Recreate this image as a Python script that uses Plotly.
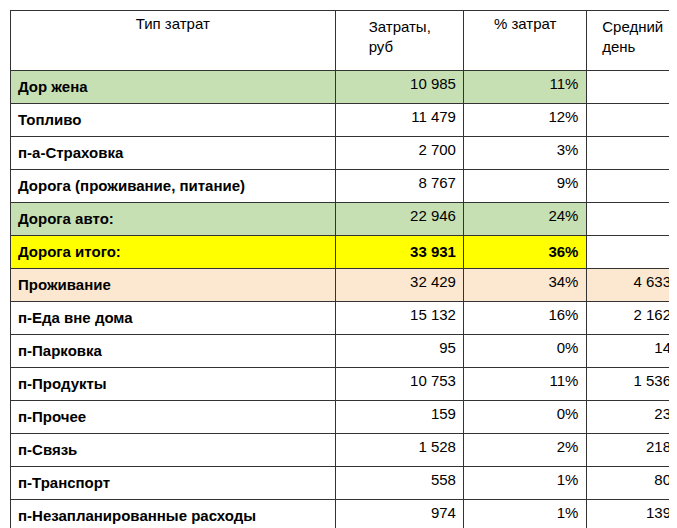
import plotly.graph_objects as go

headers = ["Тип затрат", "Затраты,<br>руб", "% затрат", "Средний<br>день"]
labels = ["Дор жена", "Топливо", "п-а-Страховка", "Дорога (проживание, питание)",
          "Дорога авто:", "Дорога итого:", "Проживание", "п-Еда вне дома", "п-Парковка",
          "п-Продукты", "п-Прочее", "п-Связь", "п-Транспорт", "п-Незапланированные расходы",
          "Затраты на месте итого", "Итого:"]
costs = ["10 985", "11 479", "2 700", "8 767", "22 946", "33 931", "32 429", "15 132", "95",
         "10 753", "159", "1 528", "558", "974", "29 199", "95 559"]
pcts = ["11%", "12%", "3%", "9%", "24%", "36%", "34%", "16%", "0%", "11%", "0%", "2%", "1%",
        "1%", "31%", "100%"]
daily = ["", "", "", "", "", "", "4 633", "2 162", "14", "1 536", "23", "218", "80", "139",
         "4 171", "13 651"]
row_kind = ["g", "w", "w", "w", "g", "y", "p", "w", "w", "w", "w", "w", "w", "w", "y", "g"]
bold_vals = {5, 14}

cmap = {"g": "#C6E0B4", "y": "#FFFF00", "p": "#FCE8D0", "w": "#FFFFFF"}
fill1 = [cmap[k] for k in row_kind]
fill4 = [cmap[k] if i >= 6 else "#FFFFFF" for i, k in enumerate(row_kind)]

def b(lst, all_bold=False):
    return [f"<b>{v}</b>" if (all_bold or i in bold_vals) and v else v for i, v in enumerate(lst)]

fig = go.Figure(go.Table(
    columnwidth=[327, 129, 123, 93],
    header=dict(values=headers, align="center", height=60,
                fill_color="white", line_color="#333",
                font=dict(family="Liberation Sans", size=15, color="black")),
    cells=dict(values=[b(labels, True), b(costs), b(pcts), b(daily)],
               align=["left", "right", "right", "right"], height=28,
               fill_color=[fill1, fill1, fill1, fill4], line_color="#333",
               font=dict(family="Liberation Sans", size=15, color="black")),
    domain=dict(x=[0, 1], y=[0, 1]),
))
fig.update_layout(width=677, height=528, margin=dict(l=2, r=6, t=2, b=0),
                  paper_bgcolor="white")
fig.write_html("out.html")
